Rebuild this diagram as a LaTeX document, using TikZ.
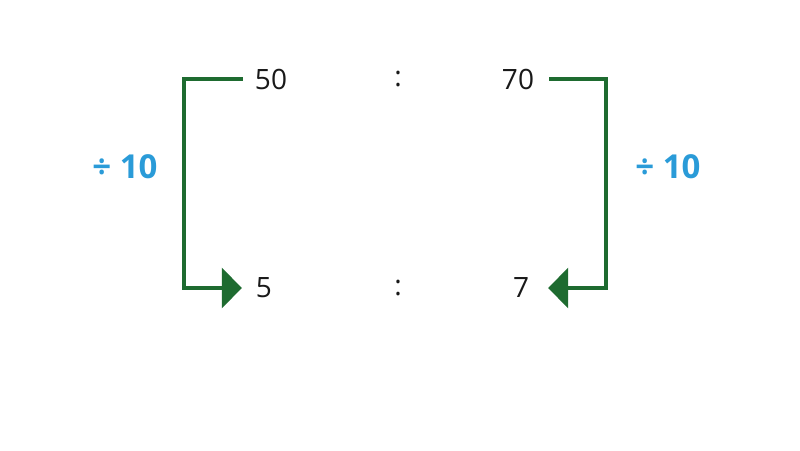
\documentclass[tikz,border=0pt]{standalone}
\usepackage{fontspec}
\setmainfont{Open Sans}
\usetikzlibrary{arrows.meta}
\definecolor{brgreen}{HTML}{1E6B30}
\definecolor{brblue}{HTML}{2A9BD8}
\begin{document}
\begin{tikzpicture}[x=1pt,y=-1pt,
  num/.style={font=\fontsize{28}{32}\selectfont, text=black!90, inner sep=12pt},
  opl/.style={font=\fontsize{33}{38}\selectfont\bfseries, text=brblue},
  bracket/.style={draw=brgreen, line width=4pt, -{Triangle[length=20pt,width=40pt]}}]
\useasboundingbox (0,0) rectangle (800,450);
\node[num] (n50) at (271,79) {50};
\node[num] (c1) at (398,79) {:};
\node[num,inner xsep=15pt] (n70) at (518,79) {70};
\node[num,inner xsep=14pt] (n5) at (264,288) {5};
\node[num] (c2) at (398,288) {:};
\node[num,inner xsep=19pt] (n7) at (521,288) {7};
\node[opl] (d1) at (125,167) {÷ 10};
\node[opl] (d2) at (668,167) {÷ 10};
\coordinate (lc) at (184,79);
\coordinate (rc) at (606,79);
\draw[bracket] (n50.west) -- (lc) |- (n5.west);
\draw[bracket] (n70.east) -- (rc) |- (n7.east);
\end{tikzpicture}
\end{document}
